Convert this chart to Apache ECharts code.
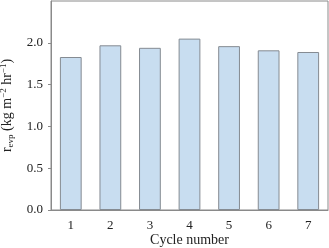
<!DOCTYPE html>
<html><head><meta charset="utf-8">
<script src="https://cdn.jsdelivr.net/npm/echarts@6/dist/echarts.min.js"></script>
<style>html,body{margin:0;padding:0;background:#fff}#c{width:329px;height:248px}</style>
</head><body><div id="c"></div>
<script>
const categories = ['1','2','3','4','5','6','7'];
const values = [1.83, 1.97, 1.94, 2.05, 1.96, 1.91, 1.89];
const yTicks = {min: 0, max: 2.5, interval: 0.5};
const font = 'Liberation Serif';
const chart = echarts.init(document.getElementById('c'));
chart.setOption({
  animation: false,
  grid: {left: 51, right: 1, top: 1, bottom: 38, show: true, borderColor: '#8a8a8a', borderWidth: 1,
         outerBoundsMode: 'none', containLabel: false},
  xAxis: {
    type: 'category', data: categories,
    name: 'Cycle number', nameLocation: 'middle', nameGap: 23, nameMoveOverlap: false,
    nameTextStyle: {fontFamily: font, fontSize: 14, color: '#222'},
    axisLine: {lineStyle: {color: '#8a8a8a'}},
    axisTick: {show: false},
    axisLabel: {fontFamily: font, fontSize: 13, color: '#222', margin: 9}
  },
  yAxis: {
    type: 'value', min: yTicks.min, max: yTicks.max, interval: yTicks.interval,
    name: '{a|r}{s|evp}{a| (kg m}{p|−2}{a| hr}{p|−1}{a|)}',
    nameLocation: 'middle', nameGap: 36, nameRotate: 90, nameMoveOverlap: false,
    nameTextStyle: {fontFamily: font, fontSize: 13, color: '#222',
      rich: {
        a: {fontFamily: font, fontSize: 14, color: '#222', lineHeight: 16},
        s: {fontFamily: font, fontSize: 9, color: '#222', verticalAlign: 'bottom', lineHeight: 16},
        p: {fontFamily: font, fontSize: 9, color: '#222', verticalAlign: 'top', lineHeight: 16}
      }},
    axisLine: {show: true, lineStyle: {color: '#8a8a8a'}},
    axisTick: {show: true, inside: false, length: 3, lineStyle: {color: '#8a8a8a'}},
    splitLine: {show: false},
    axisLabel: {fontFamily: font, fontSize: 13, color: '#222', margin: 8, showMaxLabel: false,
      formatter: v => v.toFixed(1)}
  },
  series: [{
    type: 'bar', data: values, barWidth: '55%',
    itemStyle: {color: '#c8ddf0', borderColor: '#858b92', borderWidth: 1}
  }]
});
</script></body></html>
